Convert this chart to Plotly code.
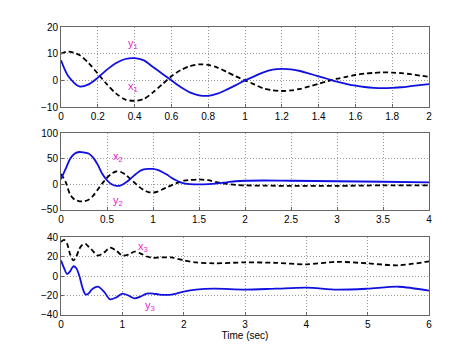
import plotly.graph_objects as go
from plotly.subplots import make_subplots

# Panel 1 (0-2 s)
t1 = [0, 0.04, 0.1, 0.15, 0.2, 0.25, 0.3, 0.35, 0.4, 0.45, 0.5, 0.55, 0.6, 0.65, 0.7, 0.75, 0.8, 0.85, 0.9, 0.95,
      1.0, 1.05, 1.1, 1.15, 1.2, 1.25, 1.3, 1.35, 1.4, 1.45, 1.5, 1.55, 1.6, 1.65, 1.7, 1.75, 1.8, 1.85, 1.9, 1.95, 2.0]
blue1 = [7.5, 1.5, -2.3, -1.5, 1, 4, 6.5, 8, 8.3, 7.5, 5, 2.5, 0, -2.5, -4.5, -5.6, -5.8, -5, -3.5, -1.8,
         0, 1.5, 3, 4, 4.3, 4.1, 3.5, 2.5, 1.5, 0.5, -0.5, -1.3, -2, -2.5, -2.8, -2.9, -2.8, -2.6, -2.2, -1.8, -1.4]
black1 = [10, 10.8, 9.5, 6.5, 2.5, -1.5, -5, -7.2, -7.7, -7, -4.5, -1.5, 1.5, 3.8, 5.3, 6, 5.8, 4.8, 3.2, 1.5,
          0, -1.5, -3, -3.7, -4, -3.8, -3.2, -2.3, -1.3, -0.3, 0.6, 1.3, 2, 2.5, 2.8, 3, 2.9, 2.7, 2.3, 1.8, 1.3]

# Panel 2 (0-4 s)
t2 = [0, 0.05, 0.1, 0.15, 0.2, 0.25, 0.3, 0.35, 0.4, 0.45, 0.5, 0.55, 0.6, 0.65, 0.7, 0.75, 0.8, 0.85, 0.9, 0.95,
      1.0, 1.05, 1.1, 1.15, 1.2, 1.25, 1.3, 1.35, 1.4, 1.5, 1.6, 1.7, 1.8, 1.9, 2.0, 2.2, 2.5, 3.0, 3.5, 4.0]
blue2 = [10, 30, 50, 60, 63, 62, 60, 52, 38, 20, 8, 0, -3, -2, 3, 10, 18, 25, 29, 30,
         30, 28, 24, 19, 13, 8, 4, 1.5, 0.5, 0, 0.5, 2, 4, 6, 7, 7.5, 7, 6, 5, 4]
black2 = [20, 5, -20, -30, -33, -33, -30, -22, -10, 2, 13, 21, 25, 24, 19, 11, 3, -5, -11, -15,
          -16, -14, -10, -6, -2, 2, 5, 7.5, 8.5, 9.5, 8, 4, 1, -1, -2, -2.5, -3, -3, -2, -2]

# Panel 3 (0-6 s)
t3 = [0, 0.05, 0.1, 0.15, 0.2, 0.25, 0.3, 0.35, 0.4, 0.45, 0.5, 0.6, 0.7, 0.8, 0.9, 1.0, 1.1, 1.2, 1.3, 1.4,
      1.5, 1.6, 1.8, 2.0, 2.2, 2.5, 3.0, 3.5, 4.0, 4.5, 5.0, 5.5, 6.0]
black3 = [35, 37, 33, 22, 16, 20, 28, 32, 33, 30, 27, 21, 24, 29, 26, 21, 22, 25, 23, 20,
          18.5, 19, 19, 16, 14, 13, 14, 13.5, 12, 14.5, 13, 11, 15]
blue3 = [16, 8, 2, 5, 10, 8, 0, -12, -19, -18, -14, -11, -16, -24, -22, -18, -20, -23, -21, -18,
         -18, -19, -19, -16, -14, -13, -14, -13, -12, -14, -13, -11, -15]

BLUE = "#1010e0"
MAG = "#ee22cc"
FONT = "Liberation Sans, Arial"

fig = make_subplots(rows=3, cols=1, vertical_spacing=0.09)
fig.update_layout(
    yaxis=dict(domain=[0.7222, 1]),
    yaxis2=dict(domain=[0.3646, 0.6319]),
    yaxis3=dict(domain=[0, 0.2708]),
)

for row, (t, b, k) in enumerate([(t1, blue1, black1), (t2, blue2, black2), (t3, blue3, black3)], start=1):
    fig.add_trace(go.Scatter(x=t, y=k, mode="lines",
                             line=dict(color="black", width=1.8, dash="5px,3px", shape="spline", smoothing=0.8),
                             showlegend=False), row=row, col=1)
    fig.add_trace(go.Scatter(x=t, y=b, mode="lines",
                             line=dict(color=BLUE, width=1.8, shape="spline", smoothing=0.8),
                             showlegend=False), row=row, col=1)

axcommon = dict(showline=True, mirror=True, linecolor="#666666", linewidth=1, ticks="inside", ticklen=3,
                tickcolor="#666666", showgrid=True, gridcolor="#999999", griddash="1px,2px", gridwidth=1,
                zeroline=False, tickfont=dict(family=FONT, size=10, color="black"))

fig.update_xaxes(**axcommon)
fig.update_yaxes(**axcommon)
fig.update_xaxes(range=[0, 2], dtick=0.2, row=1, col=1)
fig.update_xaxes(range=[0, 4], dtick=0.5, row=2, col=1)
fig.update_xaxes(range=[0, 6], dtick=1, row=3, col=1,
                 title=dict(text="Time (sec)", standoff=2, font=dict(family=FONT, size=10, color="black")))
fig.update_yaxes(range=[-10, 20], dtick=10, row=1, col=1)
fig.update_yaxes(range=[-50, 100], dtick=50, row=2, col=1)
fig.update_yaxes(range=[-40, 40], dtick=20, row=3, col=1)

labels = [("y<sub>1</sub>", 0.39, 13.6, "x", "y"), ("x<sub>1</sub>", 0.39, -2.5, "x", "y"),
          ("x<sub>2</sub>", 0.62, 54, "x2", "y2"), ("y<sub>2</sub>", 0.62, -32, "x2", "y2"),
          ("x<sub>3</sub>", 1.34, 30, "x3", "y3"), ("y<sub>3</sub>", 1.45, -31, "x3", "y3")]
for txt, x, y, xr, yr in labels:
    fig.add_annotation(text=txt, x=x, y=y, xref=xr, yref=yr, showarrow=False,
                       font=dict(family=FONT, size=11, color=MAG))

fig.update_layout(width=474, height=355, margin=dict(l=61, r=45, t=27, b=40),
                  plot_bgcolor="white", paper_bgcolor="white")

fig.write_html("out.html")
